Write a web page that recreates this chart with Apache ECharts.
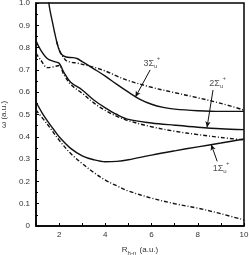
<!DOCTYPE html>
<html>
<head>
<meta charset="UTF-8">
<title></title>
<script type="text/javascript" src="https://cdn.jsdelivr.net/npm/echarts@6/dist/echarts.min.js"></script>
<style type="text/css">
    body { margin: 0; background: #fff; }
    #chart { width: 249px; height: 255px; }
</style>
</head>
<body>
<div id="chart"></div>
<script type="text/javascript">
// 1Σu+ : solid and dashed
var sig1SolidX = [1.0, 1.25, 1.5, 1.75, 2.0, 2.5, 3.0, 3.5, 4.0, 4.5, 5.0, 6.0, 7.0, 8.0, 9.0, 10.0];
var sig1SolidY = [0.556, 0.51, 0.47, 0.435, 0.40, 0.348, 0.315, 0.297, 0.288, 0.290, 0.297, 0.318, 0.337, 0.355, 0.372, 0.390];
var sig1DashX = [1.0, 1.5, 2.0, 2.5, 3.0, 3.5, 4.0, 4.5, 5.0, 6.0, 7.0, 8.0, 9.0, 10.0];
var sig1DashY = [0.52, 0.455, 0.385, 0.325, 0.28, 0.24, 0.206, 0.18, 0.157, 0.125, 0.10, 0.08, 0.055, 0.027];
// 2Σu+
var sig2SolidX = [1.0, 1.2, 1.5, 1.8, 2.0, 2.2, 2.5, 3.0, 3.5, 4.0, 4.5, 5.0, 6.0, 7.0, 8.0, 9.0, 10.0];
var sig2SolidY = [0.83, 0.79, 0.75, 0.737, 0.73, 0.69, 0.645, 0.61, 0.565, 0.53, 0.50, 0.478, 0.462, 0.452, 0.443, 0.436, 0.432];
var sig2DashX = [1.0, 1.2, 1.5, 1.8, 2.0, 2.2, 2.5, 3.0, 3.5, 4.0, 4.5, 5.0, 6.0, 7.0, 8.0, 9.0, 10.0];
var sig2DashY = [0.775, 0.745, 0.71, 0.715, 0.72, 0.68, 0.635, 0.595, 0.552, 0.518, 0.492, 0.472, 0.445, 0.425, 0.41, 0.397, 0.386];
// 3Σu+
var sig3SolidX = [1.5, 1.6, 1.7, 1.8, 1.9, 2.0, 2.1, 2.3, 2.6, 2.8, 3.0, 3.5, 4.0, 4.5, 5.0, 5.5, 6.0, 6.5, 7.0, 8.0, 9.0, 10.0];
var sig3SolidY = [1.04, 0.97, 0.92, 0.87, 0.825, 0.79, 0.77, 0.758, 0.755, 0.75, 0.737, 0.705, 0.672, 0.635, 0.60, 0.568, 0.546, 0.532, 0.524, 0.517, 0.514, 0.514];
var sig3DashX = [1.9, 2.0, 2.1, 2.3, 2.5, 2.8, 3.2, 3.5, 4.0, 4.5, 5.0, 6.0, 7.0, 8.0, 9.0, 10.0];
var sig3DashY = [0.825, 0.79, 0.77, 0.742, 0.735, 0.73, 0.72, 0.712, 0.695, 0.672, 0.652, 0.622, 0.598, 0.575, 0.55, 0.52];

// state labels and arrows (data coords)
var stateNames = ['3Σ', '2Σ', '1Σ'];
var stateLabelX = [5.95, 8.8, 8.95];
var stateLabelY = [0.73, 0.64, 0.26];
var arrowFrom = [[5.94, 0.70], [8.66, 0.61], [8.84, 0.29]];
var arrowTo = [[5.3, 0.578], [8.4, 0.442], [8.58, 0.366]];

var xTicks = ['2', '4', '6', '8', '10'];

function pairs(xs, ys) {
    var out = [];
    for (var i = 0; i < xs.length; i++) out.push([xs[i], ys[i]]);
    return out;
}

var solidStyle = { color: '#111', width: 1.4, type: 'solid' };
var dashStyle = { color: '#111', width: 1.4, type: [4, 2, 1, 2] };

function curve(xs, ys, style) {
    return {
        type: 'line', data: pairs(xs, ys), showSymbol: false, smooth: 0.35,
        lineStyle: style, silent: true, animation: false, clip: true
    };
}

var labelData = [];
for (var i = 0; i < stateNames.length; i++) {
    labelData.push({ value: [stateLabelX[i], stateLabelY[i]], name: stateNames[i] });
}
var arrowLines = [];
for (var j = 0; j < arrowFrom.length; j++) {
    arrowLines.push([{ coord: arrowFrom[j] }, { coord: arrowTo[j] }]);
}

var chart = echarts.init(document.getElementById('chart'));
chart.setOption({
    backgroundColor: '#fff',
    animation: false,
    grid: {
        left: 36, right: 5, top: 3, bottom: 29, outerBoundsMode: 'none', containLabel: false,
        show: true, borderColor: '#000', borderWidth: 1.5
    },
    xAxis: {
        type: 'value', min: 1, max: 10, interval: 1,
        name: '{r|R}{s|h-n} {r|(a.u.)}', nameLocation: 'middle', nameGap: 13,
        nameTextStyle: {
            rich: {
                r: { fontSize: 8, color: '#333', fontFamily: 'Liberation Sans' },
                s: { fontSize: 6, color: '#333', fontFamily: 'Liberation Sans', padding: [7, 0, 0, 0] }
            }
        },
        axisLine: { lineStyle: { color: '#000', width: 1.5 } },
        axisTick: { inside: true, length: 3, lineStyle: { color: '#000' } },
        splitLine: { show: false },
        axisLabel: {
            fontSize: 8, color: '#333', fontFamily: 'Liberation Sans', margin: 5,
            formatter: function (v) { return xTicks.indexOf(String(v)) >= 0 ? String(v) : ''; }
        }
    },
    yAxis: {
        type: 'value', min: 0, max: 1, interval: 0.1,
        name: 'ω (a.u.)', nameLocation: 'middle', nameGap: 24,
        nameTextStyle: { fontSize: 8, color: '#333', fontFamily: 'Liberation Sans' },
        axisLine: { show: true, lineStyle: { color: '#000', width: 1.5 } },
        axisTick: { show: true, inside: true, length: 3, lineStyle: { color: '#000' } },
        minorTick: { show: true, splitNumber: 2, length: 2, lineStyle: { color: '#000' } },
        splitLine: { show: false },
        axisLabel: {
            fontSize: 8, color: '#333', fontFamily: 'Liberation Sans', margin: 6,
            formatter: function (v) { return v === 0 ? '0' : v.toFixed(1); }
        }
    },
    series: [
        curve(sig1SolidX, sig1SolidY, solidStyle),
        curve(sig1DashX, sig1DashY, dashStyle),
        curve(sig2SolidX, sig2SolidY, solidStyle),
        curve(sig2DashX, sig2DashY, dashStyle),
        curve(sig3SolidX, sig3SolidY, solidStyle),
        curve(sig3DashX, sig3DashY, dashStyle),
        {
            type: 'scatter', data: labelData, symbolSize: 0, silent: true,
            label: {
                show: true, position: 'inside',
                formatter: function (p) { return '{m|' + p.name + '}{u|u}'; },
                rich: {
                    m: { fontSize: 9, color: '#222', fontFamily: 'Liberation Sans' },
                    u: { fontSize: 6, color: '#222', fontFamily: 'Liberation Sans', padding: [6, 0, 0, 0] }
                }
            },
            markLine: {
                silent: true, symbol: ['none', 'arrow'], symbolSize: [4, 6],
                label: { show: false },
                lineStyle: { color: '#111', width: 1, type: 'solid' },
                data: arrowLines
            }
        },
        {
            type: 'scatter', data: labelData, symbolSize: 0, silent: true,
            label: {
                show: true, position: 'inside', offset: [8, -5],
                formatter: '+',
                fontSize: 6, color: '#222', fontFamily: 'Liberation Sans'
            }
        }
    ]
});
</script>
</body>
</html>
